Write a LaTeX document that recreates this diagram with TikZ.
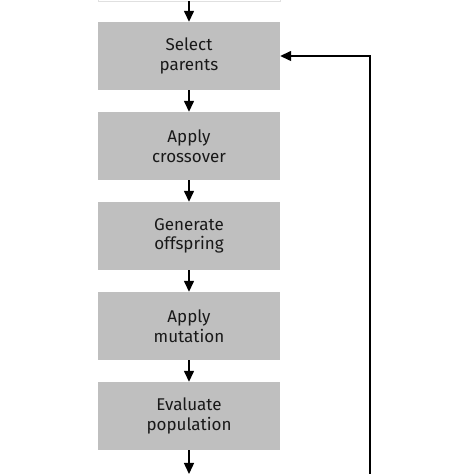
\documentclass[tikz,border=0pt]{standalone}
\usepackage{fontspec}
\setmainfont{Fira Sans}
\usetikzlibrary{arrows.meta}

\begin{document}
\begin{tikzpicture}[
  x=1pt, y=1pt,
  box/.style={fill=black!25, align=center, minimum width=182pt, minimum height=68pt,
    inner sep=0pt, text=black!90, font=\fontsize{17}{19.5}\selectfont},
  >={Triangle[length=11pt,width=10pt]}
]
\useasboundingbox (0,0) rectangle (474,474);
\clip (0,0) rectangle (474,474);
% the step before, cut off at the top
\node[box, fill=white, draw=black!12] (prev) at (189,507) {};
\node[box] (sel) at (189,418) {Select\\parents};
\node[box] (cross) at (189,328) {Apply\\crossover};
\node[box] (off) at (189,238) {Generate\\offspring};
\node[box] (mut) at (189,148) {Apply\\mutation};
\node[box] (eval) at (189,58) {Evaluate\\population};
\coordinate (down) at (189,0);
\coordinate (back) at (370,0);

\draw[->, line width=1.4pt] (prev) -- (sel);
\draw[->, line width=1.4pt] (sel) -- (cross);
\draw[->, line width=1.4pt] (cross) -- (off);
\draw[->, line width=1.4pt] (off) -- (mut);
\draw[->, line width=1.4pt] (mut) -- (eval);
\draw[->, line width=1.4pt] (eval) -- (down);
\draw[->, line width=1.4pt] (back) |- (sel.east);
\end{tikzpicture}
\end{document}
